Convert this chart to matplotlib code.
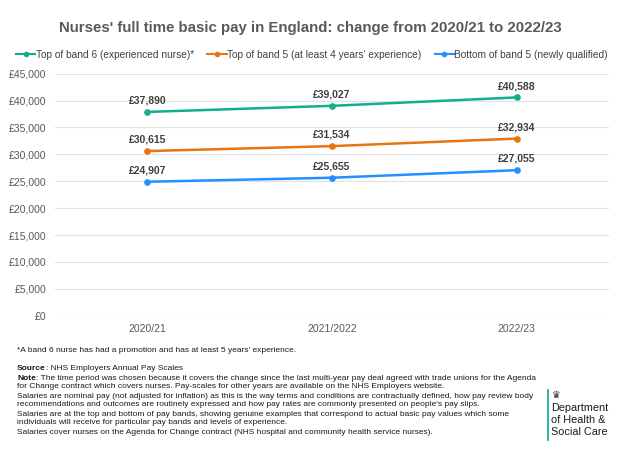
import matplotlib
matplotlib.use("Agg")
import matplotlib.pyplot as plt
from matplotlib.ticker import FuncFormatter, MultipleLocator

plt.rcParams['font.family'] = ['Liberation Sans', 'DejaVu Sans']

years = ["2020/21", "2021/2022", "2022/23"]
band6_top = [37890, 39027, 40588]
band5_top = [30615, 31534, 32934]
band5_bottom = [24907, 25655, 27055]
series_names = ["Top of band 6 (experienced nurse)*",
                "Top of band 5 (at least 4 years' experience)",
                "Bottom of band 5 (newly qualified)"]
colors = ["#13AE8C", "#E8760F", "#2490FF"]

fig = plt.figure(figsize=(6.2, 4.55), dpi=100)
ax = fig.add_axes([55/620, 1-315.7/455, (609-55)/620, (315.7-73.7)/455])

x = list(range(len(years)))
for vals, c, name in zip([band6_top, band5_top, band5_bottom], colors, series_names):
    ax.plot(x, vals, color=c, lw=1.8, marker='o', ms=3.8, label=name, zorder=3)
    for xi, v in zip(x, vals):
        ax.annotate(f"£{v:,}", (xi, v), xytext=(0, 4.5), textcoords='offset points',
                    ha='center', va='bottom', fontsize=7.5, fontweight='bold', color='#404040')

ax.set_xlim(-0.5, 2.5)
ax.set_ylim(0, 45000)
ax.yaxis.set_major_locator(MultipleLocator(5000))
ax.yaxis.set_major_formatter(FuncFormatter(lambda v, p: f"£{int(v):,}"))
ax.set_xticks(x)
ax.set_xticklabels(years)
ax.tick_params(axis='both', length=0, labelsize=7.5, labelcolor='#595959')
ax.tick_params(axis='y', pad=6.5)
ax.tick_params(axis='x', pad=6)
ax.grid(axis='y', color='#E3E3E3', lw=0.9)
ax.set_axisbelow(True)
for s in ax.spines.values():
    s.set_visible(False)

fig.text(0.5, 1-28/455, "Nurses' full time basic pay in England: change from 2020/21 to 2022/23",
         ha='center', va='center', fontsize=10.8, fontweight='bold', color='#595959')

leg = fig.legend(loc='center', bbox_to_anchor=(312/620, 1-55/455), ncol=3, frameon=False,
                 fontsize=7.3, handlelength=1.9, handletextpad=0.05, columnspacing=1.3,
                 labelcolor='#404040')
for h in leg.legend_handles:
    h.set_markersize(3)
    h.set_linewidth(1.5)

fs = 6.0
col = '#1a1a1a'
fig.text(17/620, 1-350/455, "*A band 6 nurse has had a promotion and has at least 5 years' experience.",
         fontsize=fs, color=col, va='center')
lines = [
    ("Source", ": NHS Employers Annual Pay Scales"),
    ("Note", ": The time period was chosen because it covers the change since the last multi-year pay deal agreed with trade unions for the Agenda"),
    ("", "for Change contract which covers nurses. Pay-scales for other years are available on the NHS Employers website."),
    ("", "Salaries are nominal pay (not adjusted for inflation) as this is the way terms and conditions are contractually defined, how pay review body"),
    ("", "recommendations and outcomes are routinely expressed and how pay rates are commonly presented on people's pay slips."),
    ("", "Salaries are at the top and bottom of pay bands, showing genuine examples that correspond to actual basic pay values which some"),
    ("", "individuals will receive for particular pay bands and levels of experience."),
    ("", "Salaries cover nurses on the Agenda for Change contract (NHS hospital and community health service nurses)."),
]
y0 = 369
dy = 9.0
for i, (b, t) in enumerate(lines):
    yy = 1 - (y0 + i*dy)/455
    if b:
        tb = fig.text(17/620, yy, b, fontsize=fs, color=col, va='center', fontweight='bold')
        fig.canvas.draw()
        bb = tb.get_window_extent()
        fig.text(bb.x1/620, yy, t, fontsize=fs, color=col, va='center')
    else:
        fig.text(17/620, yy, t, fontsize=fs, color=col, va='center')

# DHSC logo
fig.add_artist(plt.Line2D([548/620, 548/620], [1-390/455, 1-440/455], color='#00AD93', lw=1.2))
fig.text(552/620, 1-395/455, "♛", fontsize=7, color='#333333', va='center')
for i, t in enumerate(["Department", "of Health &", "Social Care"]):
    fig.text(551/620, 1-(408 + i*12)/455, t, fontsize=7.8, color='#1a1a1a', va='center')

fig.savefig("out.png", dpi=100)
